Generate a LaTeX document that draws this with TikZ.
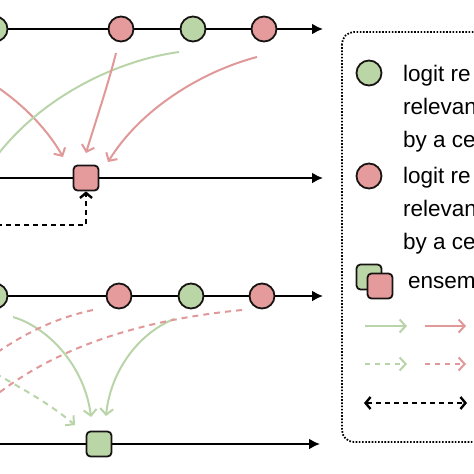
\documentclass[tikz,border=0pt]{standalone}
\usepackage{fontspec}
\setmainfont{Liberation Sans}
\usetikzlibrary{arrows.meta}
\definecolor{gfill}{RGB}{187,214,166}
\definecolor{rfill}{RGB}{229,155,155}
\definecolor{garr}{RGB}{186,212,170}
\definecolor{rarr}{RGB}{224,152,152}
\definecolor{edgec}{RGB}{25,20,20}
\begin{document}
\begin{tikzpicture}[x=1pt,y=-1pt,
  tl/.style={line width=2pt, -{Latex[length=11pt,width=11pt]}},
  dotn/.style={circle, draw=edgec, line width=1.8pt, minimum size=25pt, inner sep=0pt},
  gdot/.style={dotn, fill=gfill}, rdot/.style={dotn, fill=rfill},
  sqn/.style={rectangle, rounded corners=4pt, draw=edgec, line width=1.8pt, minimum size=25pt, inner sep=0pt},
  gsq/.style={sqn, fill=gfill}, rsq/.style={sqn, fill=rfill},
  barb/.style={-{Straight Barb[length=6pt,width=13pt]}},
  garrow/.style={draw=garr, line width=2pt, barb},
  rarrow/.style={draw=rarr, line width=2pt, barb},
  gdash/.style={garrow, dash pattern=on 6pt off 5pt},
  rdash/.style={rarrow, dash pattern=on 6pt off 5pt},
  blk/.style={draw=black, line width=2.4pt, dash pattern=on 5pt off 4pt, -{Straight Barb[length=5pt,width=12pt]}},
  lbl/.style={anchor=base west, inner sep=0pt, font=\fontsize{22.5}{27}\selectfont},
  legbox/.style={draw=black, line width=1.8pt, dash pattern=on 1.6pt off 1.6pt, rounded corners=12pt}
]
\useasboundingbox (0,0) rectangle (474,474);
\clip (0,0) rectangle (474,474);

% ---------- upper pair of timelines ----------
\coordinate (t1s) at (-30,29);
\coordinate (t1e) at (323,29);
\draw[tl] (t1s) -- (t1e);
\node[gdot] (g0) at (-5,29) {};
\node[rdot] (r1) at (121,29) {};
\node[gdot] (g1) at (193,29) {};
\node[rdot] (r2) at (264,29) {};

\coordinate (t2s) at (-30,178);
\coordinate (t2e) at (323,178);
\draw[tl] (t2s) -- (t2e);
\node[rsq] (s1) at (86,178) {};

\coordinate (d0) at (-30,225);
\draw[blk] (d0) -| (s1.south);

\coordinate (a1s) at (-14,80);
\coordinate (a1e) at (63,157);
\draw[rarrow] (a1s) .. controls (15,97) and (45,125) .. (a1e);

\coordinate (a2s) at (179,52);
\coordinate (a2e) at (-10,165);
\draw[garrow] (a2s) .. controls (120,60) and (40,95) .. (a2e);

\coordinate (a3s) at (116,53);
\coordinate (a3e) at (86,153);
\draw[rarrow] (a3s) .. controls (108,85) and (96,120) .. (a3e);

\coordinate (a4s) at (257,57);
\coordinate (a4e) at (108,162);
\draw[rarrow] (a4s) .. controls (200,72) and (140,110) .. (a4e);

% ---------- lower pair of timelines ----------
\coordinate (t3s) at (-30,296);
\coordinate (t3e) at (323,296);
\draw[tl] (t3s) -- (t3e);
\node[gdot] (g2) at (-5,296) {};
\node[rdot] (r3) at (119,296) {};
\node[gdot] (g3) at (191,296) {};
\node[rdot] (r4) at (262,296) {};

\coordinate (t4s) at (-30,444);
\coordinate (t4e) at (320,444);
\draw[tl] (t4s) -- (t4e);
\node[gsq] (s2) at (99,444) {};

\coordinate (b1s) at (13,317);
\coordinate (b1e) at (91,417);
\draw[garrow] (b1s) .. controls (50,328) and (85,368) .. (b1e);

\coordinate (b2s) at (174,319);
\coordinate (b2e) at (106,416);
\draw[garrow] (b2s) .. controls (135,335) and (110,375) .. (b2e);

\coordinate (b3s) at (-14,368);
\coordinate (b3e) at (75,425);
\draw[gdash] (b3s) .. controls (15,385) and (45,400) .. (b3e);

\coordinate (b4s) at (93,310);
\coordinate (b4e) at (-16,362);
\draw[rdash] (b4s) .. controls (55,318) and (20,335) .. (b4e);

\coordinate (b5s) at (242,310);
\coordinate (b5e) at (-16,405);
\draw[rdash] (b5s) .. controls (160,318) and (60,340) .. (b5e);

% ---------- legend ----------
\draw[legbox] (342,32) rectangle (530,442);
\node[gdot] (lg) at (369,73) {};
\node[lbl] (lt1) at (403,81) {logit re};
\node[lbl] (lt2) at (403,114) {relevant};
\node[lbl] (lt3) at (403,147) {by a certain};
\node[rdot] (lr) at (369,176) {};
\node[lbl] (lt4) at (403,183) {logit re};
\node[lbl] (lt5) at (403,216) {relevant};
\node[lbl] (lt6) at (403,249) {by a certain};
\node[gsq] (lsg) at (369,277) {};
\node[rsq] (lsr) at (380,286) {};
\node[lbl] (lt7) at (408,288) {ensemble};

\coordinate (l1a) at (365,326); \coordinate (l1b) at (407,326);
\coordinate (l2a) at (425,326); \coordinate (l2b) at (466,326);
\draw[garrow] (l1a) -- (l1b);
\draw[rarrow] (l2a) -- (l2b);
\coordinate (l3a) at (365,364); \coordinate (l3b) at (407,364);
\coordinate (l4a) at (425,364); \coordinate (l4b) at (466,364);
\draw[gdash, dash pattern=on 5pt off 5pt] (l3a) -- (l3b);
\draw[rdash, dash pattern=on 5pt off 5pt] (l4a) -- (l4b);
\coordinate (l5a) at (364,403); \coordinate (l5b) at (467,403);
\draw[blk, {Straight Barb[length=5pt,width=12pt]}-{Straight Barb[length=5pt,width=12pt]}] (l5a) -- (l5b);
\end{tikzpicture}
\end{document}
